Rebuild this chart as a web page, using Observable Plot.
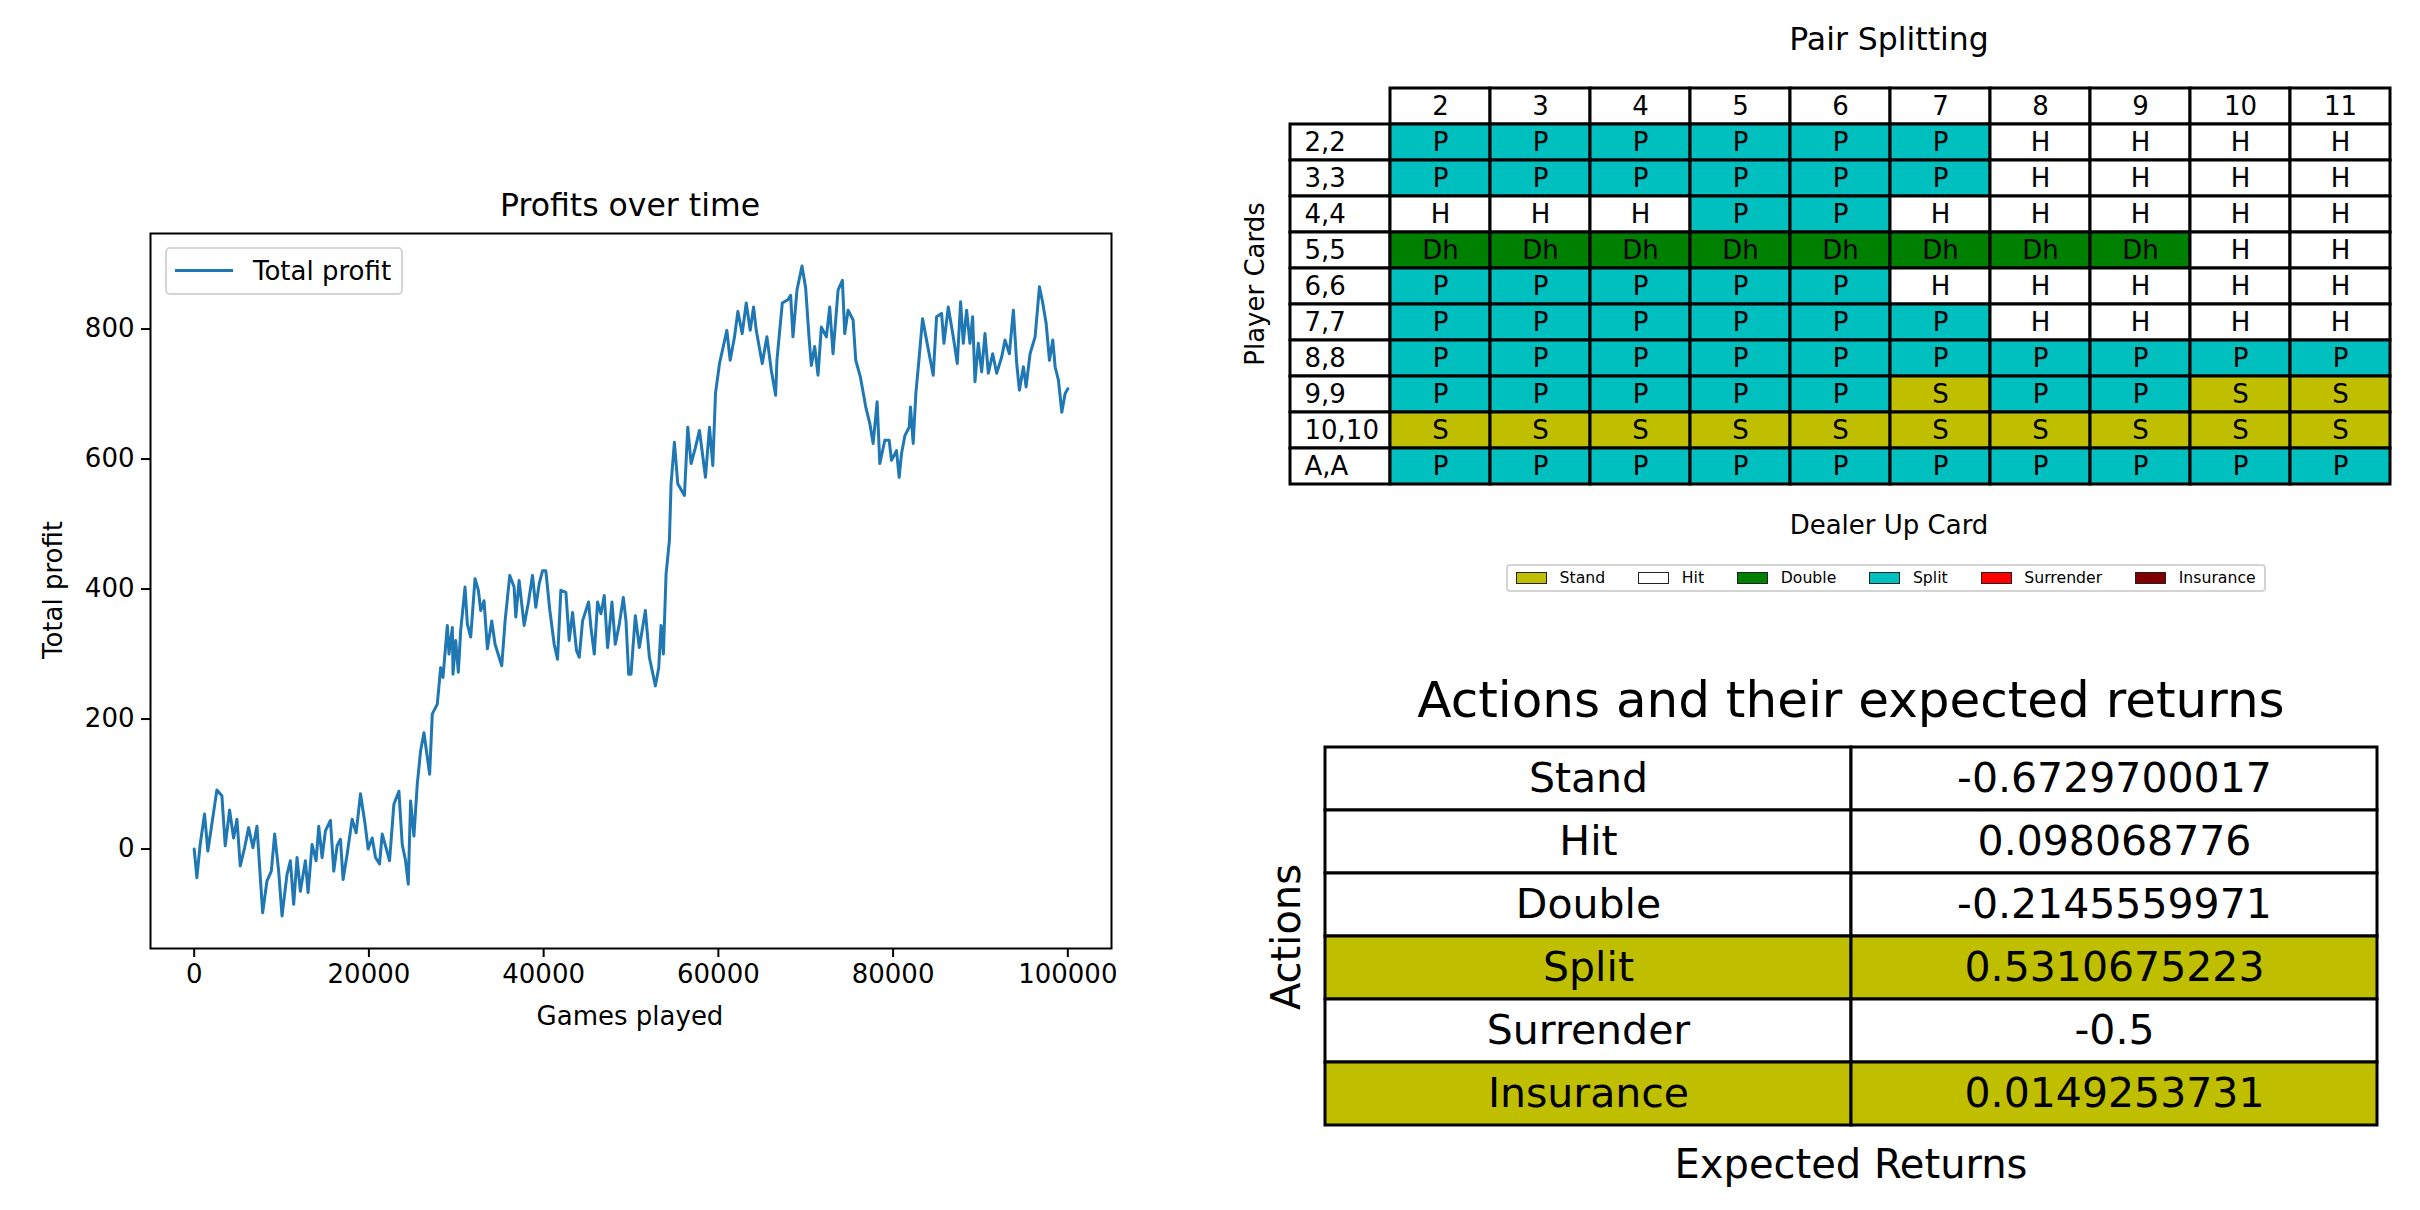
<!DOCTYPE html>
<html><head><meta charset="utf-8">
<script src="https://cdn.jsdelivr.net/npm/d3@7"></script>
<script src="https://cdn.jsdelivr.net/npm/@observablehq/plot@0.6"></script>
<style>
html,body{margin:0;padding:0;background:#fff;}
#root{position:relative;width:2420px;height:1210px;background:#fff;font-family:"DejaVu Sans",sans-serif;color:#000;overflow:hidden;}
.lbl{position:absolute;white-space:nowrap;line-height:1;transform:translate(-50%,-50%);}
.rot{transform:translate(-50%,-50%) rotate(-90deg);}
</style></head><body><div id="root"></div>
<script>
// ---------- data: profit over time ----------
const games = [0, 306, 688, 1185, 1567, 2599, 3173, 3555, 4052, 4511,
4893, 5275, 5772, 6231, 6728, 7187, 7836, 8333, 8830, 9212,
9671, 10054, 10627, 11009, 11391, 11774, 12156, 12729, 13035, 13494,
13953, 14258, 14641, 15023, 15596, 15978, 16361, 16743, 17049, 17508,
18081, 18540, 19037, 19534, 19916, 20375, 20757, 21216, 21522, 21904,
22362, 22859, 23433, 23815, 24197, 24503, 24771, 25153, 25536, 25917,
26300, 26950, 27256, 27829, 28211, 28479, 28976, 29167, 29549, 29625,
29931, 30237, 30505, 31002, 31269, 31651, 32148, 32530, 32798, 33180,
33563, 34060, 34442, 35206, 35589, 36124, 36621, 36812, 37194, 37768,
38264, 38723, 39106, 39488, 39870, 40252, 40711, 41208, 41590, 41972,
42546, 42928, 43310, 43769, 44075, 44457, 45145, 45413, 45795, 46177,
46560, 46942, 47324, 47821, 48203, 48662, 49121, 49427, 49732, 50000,
50497, 50956, 51644, 52102, 52790, 53173, 53440, 53708, 54014, 54396,
54587, 54969, 55352, 56116, 56499, 56881, 57378, 57836, 58524, 58983,
59366, 59671, 60130, 60972, 61353, 61850, 62233, 62729, 63188, 63647,
64029, 64335, 65023, 65558, 66055, 66552, 66705, 67317, 67966, 68272,
68540, 68998, 69572, 69992, 70375, 70642, 71024, 71407, 71789, 72362,
72745, 73127, 73700, 74197, 74465, 74847, 75421, 75726, 76261, 76873,
77331, 77714, 78173, 78479, 79052, 79549, 79817, 80390, 80696, 80963,
81346, 81843, 81995, 82301, 82607, 82989, 83372, 83830, 84595, 84977,
85550, 85818, 86315, 86888, 87347, 87729, 88035, 88417, 88799, 89106,
89373, 89756, 90138, 90520, 90902, 91399, 91858, 92431, 92813, 93311,
93769, 94151, 94457, 94916, 95222, 95681, 96254, 96751, 97133, 97515,
97898, 98280, 98547, 98930, 99312, 99694, 100000];
const profit = [0, -44, 7, 54, -3, 91, 82, 5, 60, 17,
46, -26, 2, 33, 2, 35, -98, -49, -34, 23,
-34, -103, -39, -18, -85, -13, -65, -18, -67, 7,
-18, 35, -13, 28, 44, -34, 5, 15, -47, -8,
46, 25, 85, 41, 0, 17, -13, -23, 23, 5,
-18, 69, 89, 7, -18, -54, 74, 20, 100, 151,
179, 115, 208, 223, 279, 264, 344, 300, 341, 269,
321, 272, 336, 403, 346, 326, 416, 398, 367, 382,
308, 351, 315, 282, 351, 421, 403, 357, 413, 344,
380, 421, 372, 408, 428, 428, 367, 315, 292, 398,
395, 321, 364, 305, 295, 351, 380, 341, 300, 380,
362, 390, 310, 380, 315, 346, 387, 351, 269, 269,
359, 310, 367, 295, 251, 279, 344, 300, 423, 475,
562, 626, 562, 544, 649, 593, 618, 644, 572, 649,
590, 701, 747, 798, 752, 788, 827, 793, 840, 798,
834, 798, 747, 788, 737, 698, 752, 840, 845, 852,
788, 860, 897, 863, 788, 744, 773, 729, 803, 788,
834, 762, 860, 875, 793, 829, 814, 752, 726, 680,
655, 624, 688, 593, 629, 629, 598, 613, 572, 608,
636, 649, 680, 624, 701, 757, 816, 783, 729, 819,
824, 778, 834, 788, 747, 842, 778, 829, 778, 819,
719, 778, 734, 793, 732, 762, 732, 757, 783, 762,
829, 747, 706, 742, 711, 762, 788, 865, 840, 809,
752, 783, 742, 721, 672, 701, 708];
const xTicks = [0, 20000, 40000, 60000, 80000, 100000];
const yTicks = [0, 200, 400, 600, 800];

// ---------- data: pair splitting table ----------
const dealerCards = ["2","3","4","5","6","7","8","9","10","11"];
const playerPairs = ["2,2","3,3","4,4","5,5","6,6","7,7","8,8","9,9","10,10","A,A"];
const pairActions = [
  ["P","P","P","P","P","P","H","H","H","H"],
  ["P","P","P","P","P","P","H","H","H","H"],
  ["H","H","H","P","P","H","H","H","H","H"],
  ["Dh","Dh","Dh","Dh","Dh","Dh","Dh","Dh","H","H"],
  ["P","P","P","P","P","H","H","H","H","H"],
  ["P","P","P","P","P","P","H","H","H","H"],
  ["P","P","P","P","P","P","P","P","P","P"],
  ["P","P","P","P","P","S","P","P","S","S"],
  ["S","S","S","S","S","S","S","S","S","S"],
  ["P","P","P","P","P","P","P","P","P","P"]
];
const actionCodes = ["S","H","Dh","P","R","I"];
const legendLabels = ["Stand","Hit","Double","Split","Surrender","Insurance"];
const legendColors = ["#bfbf00","#ffffff","#008000","#00bfbf","#ff0000","#800000"];

// ---------- data: expected returns table ----------
const actionNames = ["Stand","Hit","Double","Split","Surrender","Insurance"];
const expectedReturns = [-0.6729700017, 0.098068776, -0.2145559971, 0.5310675223, -0.5, 0.0149253731];
const highlightedActions = ["Split","Insurance"];
const highlightColor = "#bfbf00";

// ---------- helpers ----------
const root = document.getElementById("root");
const FONT = "DejaVu Sans";
function placeSvg(svg, left, top) {
  svg.style.position = "absolute";
  svg.style.left = left + "px";
  svg.style.top = top + "px";
  svg.style.maxWidth = "none";
  svg.style.background = "transparent";
  root.appendChild(svg);
}
function label(text, x, y, size, rotate) {
  const d = document.createElement("div");
  d.className = "lbl" + (rotate ? " rot" : "");
  d.textContent = text;
  d.style.left = x + "px";
  d.style.top = y + "px";
  d.style.fontSize = size + "px";
  root.appendChild(d);
}

// ---------- left: profits over time ----------
const series = games.map((g, i) => ({games: g, profit: profit[i]}));
const leftPlot = Plot.plot({
  width: 1150, height: 1060,
  marginLeft: 150, marginRight: 39, marginTop: 233, marginBottom: 112,
  style: {fontFamily: FONT, fontSize: "26px", color: "#000", background: "transparent"},
  x: {domain: [-5000, 105000]},
  y: {domain: [-153, 947]},
  marks: [
    Plot.line(series, {x: "games", y: "profit", stroke: "#1f77b4", strokeWidth: 3, strokeLinejoin: "round"}),
    Plot.frame({stroke: "#000", strokeWidth: 2}),
    Plot.axisX({ticks: xTicks, tickFormat: d => String(d), tickSize: 9, tickPadding: 7, fontSize: 26, label: null, strokeWidth: 2}),
    Plot.axisY({ticks: yTicks, tickFormat: d => String(d), tickSize: 9, tickPadding: 7, fontSize: 26, label: null, strokeWidth: 2})
  ]
});
placeSvg(leftPlot, 0, 0);

// ---------- top right: pair splitting table ----------
const headerCells = dealerCards.map(c => ({row: "hdr", col: c, text: c}));
const rowLabelCells = playerPairs.map(p => ({row: p, col: "lbl", text: p}));
const actionCells = [];
playerPairs.forEach((p, r) => dealerCards.forEach((c, k) => actionCells.push({row: p, col: c, code: pairActions[r][k]})));
const topPlot = Plot.plot({
  width: 1180, height: 620,
  marginLeft: 49, marginRight: 30, marginTop: 84, marginBottom: 133,
  style: {fontFamily: FONT, fontSize: "26px", color: "#000", background: "transparent"},
  x: {domain: ["lbl", ...dealerCards], padding: 0, axis: null},
  y: {domain: ["hdr", ...playerPairs], padding: 0, axis: null},
  color: {type: "ordinal", domain: actionCodes, range: legendColors},
  marks: [
    Plot.cell(headerCells, {x: "col", y: "row", fill: "#fff", stroke: "#000", strokeWidth: 3}),
    Plot.cell(rowLabelCells, {x: "col", y: "row", fill: "#fff", stroke: "#000", strokeWidth: 3}),
    Plot.cell(actionCells, {x: "col", y: "row", fill: "code", stroke: "#000", strokeWidth: 3}),
    Plot.text(headerCells, {x: "col", y: "row", text: "text", fontSize: 26, fill: "#000"}),
    Plot.text(rowLabelCells, {x: "col", y: "row", text: "text", fontSize: 26, fill: "#000", textAnchor: "start", dx: -36}),
    Plot.text(actionCells, {x: "col", y: "row", text: "code", fontSize: 26, fill: "#000"})
  ]
});
placeSvg(topPlot, 1240, 0);

// ---------- bottom right: expected returns table ----------
const tableCols = ["Actions", "Expected Returns"];
const returnCells = [];
actionNames.forEach((a, i) => {
  returnCells.push({row: a, col: tableCols[0], text: a});
  returnCells.push({row: a, col: tableCols[1], text: String(expectedReturns[i])});
});
const bottomPlot = Plot.plot({
  width: 1160, height: 550,
  marginLeft: 65, marginRight: 43, marginTop: 86, marginBottom: 85,
  style: {fontFamily: FONT, fontSize: "41px", color: "#000", background: "transparent"},
  x: {domain: tableCols, padding: 0, axis: null},
  y: {domain: actionNames, padding: 0, axis: null},
  marks: [
    Plot.cell(returnCells, {x: "col", y: "row", fill: d => highlightedActions.includes(d.row) ? highlightColor : "#ffffff", stroke: "#000", strokeWidth: 3}),
    Plot.text(returnCells, {x: "col", y: "row", text: "text", fontSize: 41, fill: "#000"})
  ]
});
placeSvg(bottomPlot, 1260, 660);

// ---------- titles and axis labels ----------
label("Profits over time", 630, 206, 31.5);
label("Games played", 630, 1016, 26);
label("Total profit", 53, 590, 26, true);
label("Pair Splitting", 1889, 40, 31.5);
label("Player Cards", 1255, 284, 26, true);
label("Dealer Up Card", 1889, 525, 26);
label("Actions and their expected returns", 1851, 700, 50);
label("Actions", 1286, 937, 40, true);
label("Expected Returns", 1851, 1164, 40);

// ---------- left legend ----------
const lg = document.createElement("div");
Object.assign(lg.style, {position: "absolute", left: "165px", top: "247px", width: "238px", height: "48px",
  boxSizing: "border-box", border: "2px solid #d4d4d4", borderRadius: "5px", background: "#fff"});
root.appendChild(lg);
const lgLine = document.createElement("div");
Object.assign(lgLine.style, {position: "absolute", left: "8px", top: "20px", width: "58px", height: "3px", background: "#1f77b4"});
lg.appendChild(lgLine);
const lgText = document.createElement("div");
Object.assign(lgText.style, {position: "absolute", left: "86px", top: "9px", fontSize: "26px", lineHeight: "1", whiteSpace: "nowrap"});
lgText.textContent = "Total profit";
lg.appendChild(lgText);

// ---------- action legend ----------
const al = document.createElement("div");
Object.assign(al.style, {position: "absolute", left: "1506px", top: "564px", height: "28px", boxSizing: "border-box",
  border: "2px solid #d4d4d4", borderRadius: "4px", background: "#fff", display: "flex", alignItems: "center",
  padding: "0 8px", gap: "33px", fontSize: "15.7px", whiteSpace: "nowrap"});
legendLabels.forEach((name, i) => {
  const item = document.createElement("div");
  Object.assign(item.style, {display: "flex", alignItems: "center", gap: "12.6px"});
  const sw = document.createElement("div");
  Object.assign(sw.style, {width: "31px", height: "12px", boxSizing: "border-box", border: "1.5px solid #222", background: legendColors[i]});
  const tx = document.createElement("span");
  tx.textContent = name;
  tx.style.lineHeight = "1";
  item.appendChild(sw); item.appendChild(tx);
  al.appendChild(item);
});
root.appendChild(al);
</script></body></html>
